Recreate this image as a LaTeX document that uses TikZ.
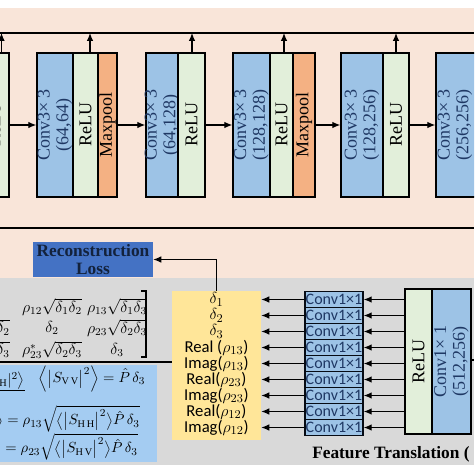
\documentclass[tikz,border=0pt]{standalone}
\usepackage{amsmath}
\usepackage{fontspec}
\setmainfont{Liberation Serif}
\newfontfamily\carlito{Carlito}
\usetikzlibrary{arrows.meta,fit}
\definecolor{peach}{HTML}{F9E5D9}
\definecolor{convblue}{HTML}{9DC3E6}
\definecolor{relugreen}{HTML}{E2EFDA}
\definecolor{poolorange}{HTML}{F4B183}
\definecolor{grayreg}{HTML}{D9D9D9}
\definecolor{yelbox}{HTML}{FFE699}
\definecolor{fblue}{HTML}{A4CCF2}
\definecolor{recblue}{HTML}{4472C4}
\definecolor{navy}{HTML}{1F3864}
\begin{document}
\begin{tikzpicture}[x=0.75pt,y=-0.75pt,
  blk/.style={draw=black,line width=1.1pt,inner sep=0pt},
  convb/.style={blk,fill=convblue},
  relub/.style={blk,fill=relugreen},
  poolb/.style={blk,fill=poolorange},
  vtxt/.style={rotate=90,align=center,font=\fontsize{13.5}{14}\selectfont,inner sep=0pt},
  ctxt/.style={vtxt,text=navy},
  arr/.style={-{Latex[length=6pt,width=5pt]},line width=0.9pt},
  kbox/.style={draw=black!80!navy,line width=1.1pt,fill=convblue,inner sep=0pt},
  ktxt/.style={font=\carlito\fontsize{12}{12}\selectfont,text=navy,inner sep=0pt},
  ytxt/.style={font=\carlito\fontsize{12.5}{12}\selectfont,inner sep=0pt},
  mtxt/.style={font=\fontsize{12}{12}\selectfont,inner sep=0pt},
  ftxt/.style={font=\fontsize{11}{11}\selectfont,inner sep=0pt},
]
\useasboundingbox (0,0) rectangle (474,474);
\clip (0,0) rectangle (474,474);
% backgrounds
\fill[white] (0,0) rectangle (474,474);
\fill[peach] (0,8) rectangle (474,278);
\fill[grayreg] (0,278) rectangle (474,465);
\coordinate (tl) at (0,33); \coordinate (tr) at (474,33);
\coordinate (bl) at (0,228); \coordinate (br) at (474,228);
\draw[line width=1pt] (tl) -- (tr);
\draw[line width=1pt] (bl) -- (br);

% top blocks
\node[relub,fit={(-20,53) (9,197)}] (lr) {};
\node[vtxt] at (lr.center) {ReLU};
\node[convb,fit={(37,53) (73,197)}] (c1) {};
\node[ctxt] at (c1.center) {Conv3× 3\\(64,64)};
\node[relub,fit={(73,53) (98,197)}] (r1) {};
\node[vtxt] at (r1.center) {ReLU};
\node[poolb,fit={(98,53) (117,197)}] (m1) {};
\node[vtxt] at (m1.center) {Maxpool};
\node[convb,fit={(146,53) (178,197)}] (c2) {};
\node[ctxt] at (c2.center) {Conv3× 3\\(64,128)};
\node[relub,fit={(178,53) (205,197)}] (r2) {};
\node[vtxt] at (r2.center) {ReLU};
\node[convb,fit={(233,53) (270,197)}] (c3) {};
\node[ctxt] at (c3.center) {Conv3× 3\\(128,128)};
\node[relub,fit={(270,53) (293,197)}] (r3) {};
\node[vtxt] at (r3.center) {ReLU};
\node[poolb,fit={(293,53) (315,197)}] (m3) {};
\node[vtxt] at (m3.center) {Maxpool};
\node[convb,fit={(341,53) (383,197)}] (c4) {};
\node[ctxt] at (c4.center) {Conv3× 3\\(128,256)};
\node[relub,fit={(383,53) (409,197)}] (r4) {};
\node[vtxt] at (r4.center) {ReLU};
\node[convb,fit={(436,53) (480,197)}] (c5) {};
\node[ctxt] at (455,125) {Conv3× 3\\(256,256)};

% horizontal arrows
\draw[arr] (lr.east) -- (c1.west);
\draw[arr] (m1.east) -- (c2.west);
\draw[arr] (r2.east) -- (c3.west);
\draw[arr] (m3.east) -- (c4.west);
\draw[arr] (r4.east) -- (c5.west);
% up arrows
\coordinate (u0) at (1.5,33);
\coordinate (u1) at (90,33);
\coordinate (u2) at (192,33);
\coordinate (u3) at (284,33);
\coordinate (u4) at (396,33);
\draw[arr] (lr.north -| u0) -- (u0);
\draw[arr] (r1.north -| u1) -- (u1);
\draw[arr] (r2.north -| u2) -- (u2);
\draw[arr] (r3.north -| u3) -- (u3);
\draw[arr] (r4.north -| u4) -- (u4);

% reconstruction loss
\node[fill=recblue,inner sep=0pt,fit={(33,242) (153,277)}] (rec) {};
\node[font=\bfseries\fontsize{13}{14}\selectfont,text=navy!60!black,align=center,inner sep=0pt] at (rec.center) {Reconstruction\\Loss};

% yellow box
\node[fill=yelbox,inner sep=0pt,fit={(172,291) (261,440)}] (yel) {};
\draw[arr] (yel.north) |- (rec.east);
\node[ytxt] (y0) at (216.5,299.5) {$\delta_1$};
\node[ytxt] (y1) at (216.5,315.5) {$\delta_2$};
\node[ytxt] (y2) at (216.5,331.5) {$\delta_3$};
\node[ytxt] (y3) at (216.5,347.5) {Real\ ($\rho_{13}$)};
\node[ytxt] (y4) at (216.5,363.5) {Imag($\rho_{13}$)};
\node[ytxt] (y5) at (216.5,379.5) {Real($\rho_{23}$)};
\node[ytxt] (y6) at (216.5,395.5) {Imag($\rho_{23}$)};
\node[ytxt] (y7) at (216.5,411.5) {Real($\rho_{12}$)};
\node[ytxt] (y8) at (216.5,427.5) {Imag($\rho_{12}$)};

% bottom right blocks
\node[relub,fit={(405,289) (432,434)}] (rb) {};
\node[vtxt] at (rb.center) {ReLU};
\node[convb,fit={(432,289) (471,434)}] (cb) {};
\node[ctxt] at (cb.center) {Conv1× 1\\(512,256)};
\coordinate (cbr) at (474,360);
\draw[line width=0.9pt] (cb.east |- cbr) -- (cbr);

\foreach \i in {0,...,8}{
  \node[kbox,fit={(305,{291.5+16*\i}) (363,{307.5+16*\i})}] (k\i) {};
  \node[ktxt] at (k\i.center) {Conv1×1};
  \draw[arr] (k\i.east -| rb.west) -- (k\i.east);
  \draw[arr] (k\i.west) -- (k\i.west -| yel.east);
}

% matrix (partially visible)
\node[mtxt,anchor=east] (m21) at (10,328) {$\rho^{*}_{12}\sqrt{\delta_1\delta_2}$};
\node[mtxt,anchor=east] (m31) at (10,350) {$\rho^{*}_{13}\sqrt{\delta_1\delta_3}$};
\node[mtxt] (m12) at (52,307) {$\rho_{12}\sqrt{\delta_1\delta_2}$};
\node[mtxt] (m22) at (52,328) {$\delta_2$};
\node[mtxt] (m32) at (52,350) {$\rho^{*}_{23}\sqrt{\delta_2\delta_3}$};
\node[mtxt] (m13) at (117,307) {$\rho_{13}\sqrt{\delta_1\delta_3}$};
\node[mtxt] (m23) at (117,328) {$\rho_{23}\sqrt{\delta_2\delta_3}$};
\node[mtxt] (m33) at (117,350) {$\delta_3$};
\draw[line width=0.8pt] (141,291) -- (146,291) -- (146,357) -- (141,357);

\coordinate (ml) at (0,362);
\draw[line width=0.9pt] (ml) -- (ml -| yel.west);

% formula box
\node[fill=fblue,inner sep=0pt,fit={(0,365) (157,462)}] (fb) {};
\node[ftxt,anchor=south east] (f1a) at (25,390) {$\bigl\langle|S_{\mathrm{HH}}|^2\bigr\rangle$};
\draw[line width=0.5pt] (f1a.south west) -- (f1a.south east);
\node[ftxt] (f1b) at (92,379) {$\Bigl\langle\bigl|S_{\mathrm{V\,V}}\bigr|^2\Bigr\rangle=\hat P\,\delta_3$};
\node[ftxt,anchor=east] (f2) at (140,419) {$\bigl\langle S_{\mathrm{HH}}S^{*}_{\mathrm{VV}}\bigr\rangle=\rho_{13}\sqrt{\bigl\langle\bigl|S_{\mathrm{H\,H}}\bigr|^2\bigr\rangle\hat P\,\delta_3}$};
\node[ftxt,anchor=east] (f3) at (138,447) {$\bigl\langle S_{\mathrm{HV}}S^{*}_{\mathrm{VV}}\bigr\rangle=\rho_{23}\sqrt{\bigl\langle\bigl|S_{\mathrm{H\,V}}\bigr|^2\bigr\rangle\hat P\,\delta_3}$};

% caption
\node[anchor=west,font=\bfseries\fontsize{13}{13}\selectfont,inner sep=0pt] (ft) at (312,454) {Feature Translation (};
\end{tikzpicture}
\end{document}
